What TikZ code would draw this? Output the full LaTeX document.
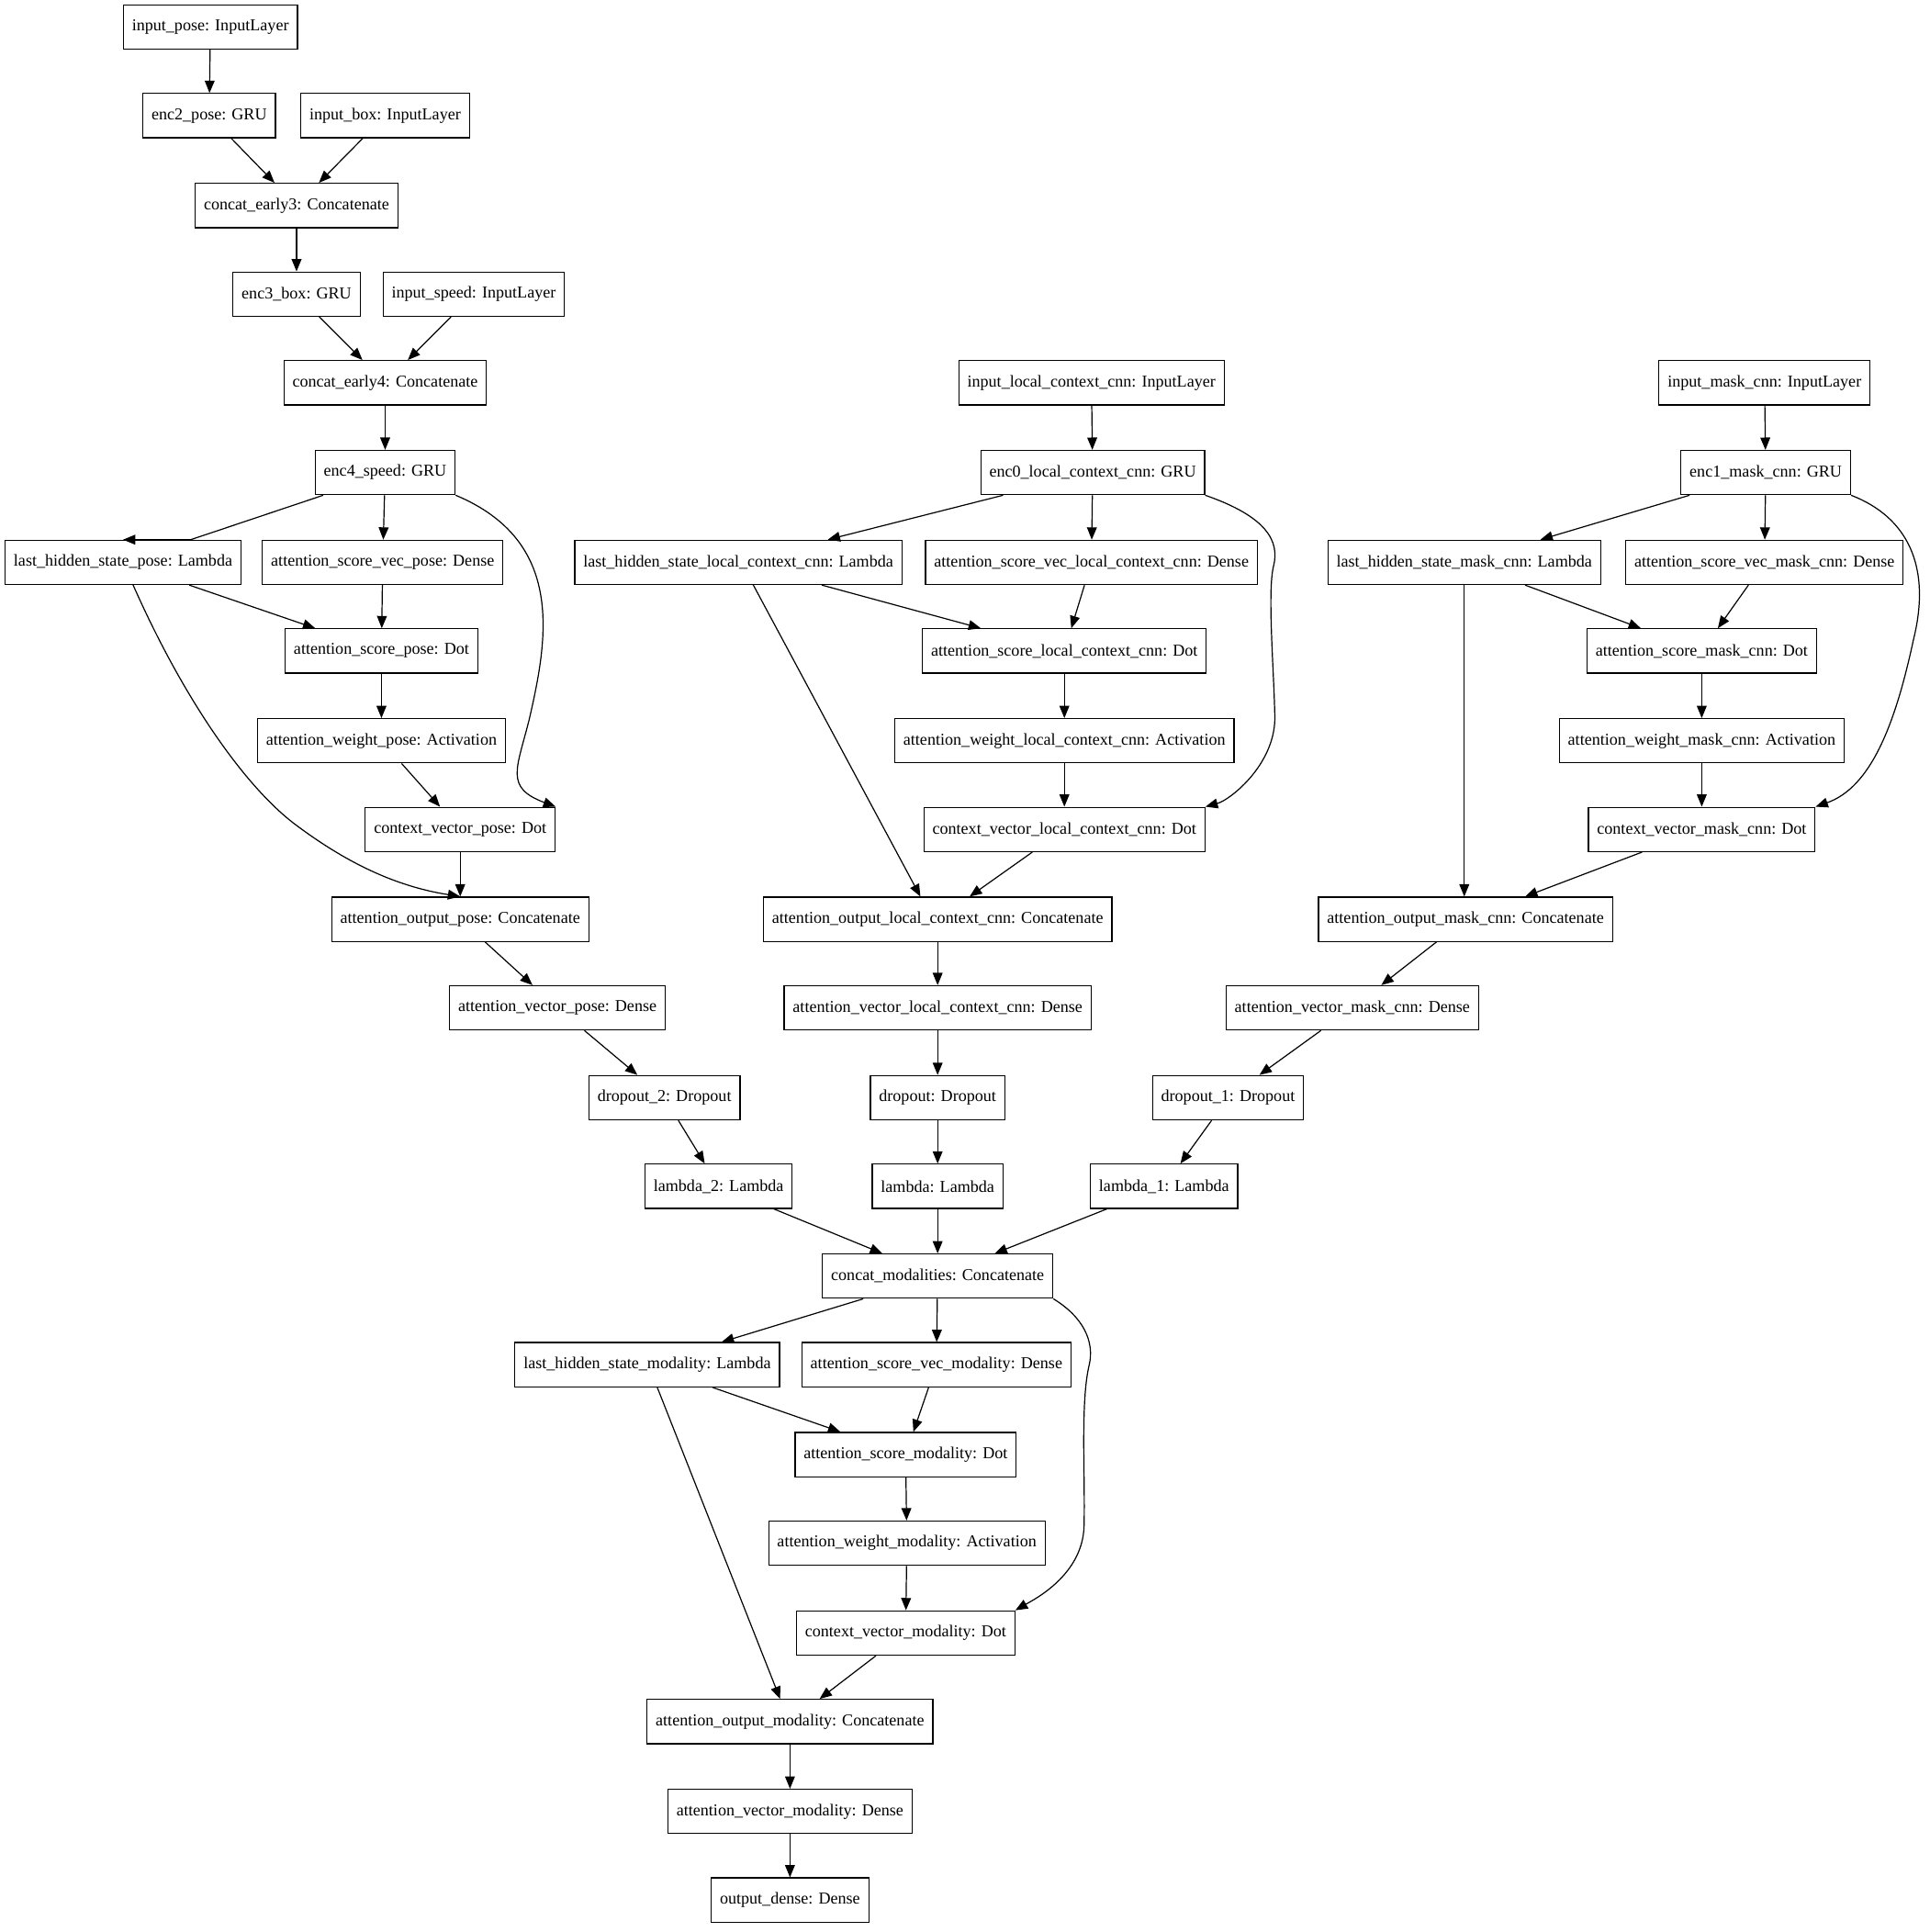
\documentclass[tikz,border=0pt]{standalone}
\usepackage{fontspec}
\setmainfont{Liberation Serif}
\usetikzlibrary{arrows.meta}
\begin{document}
\begin{tikzpicture}[x=1pt,y=-1pt,
  box/.style={draw,line width=0.9pt,minimum height=36pt,inner xsep=7pt,font=\fontsize{13.5}{15}\selectfont},
  edge/.style={line width=0.9pt,-{Triangle[length=10pt,width=8pt]}}]
\useasboundingbox (0,0) rectangle (1568,1570);
% pose branch
\node[box] (ip) at (171,22) {input\_pose: InputLayer};
\node[box] (e2) at (170,94) {enc2\_pose: GRU};
\node[box] (ib) at (313,94) {input\_box: InputLayer};
\node[box] (c3) at (241,167) {concat\_early3: Concatenate};
\node[box] (e3) at (241,239) {enc3\_box: GRU};
\node[box] (is) at (385,239) {input\_speed: InputLayer};
\node[box] (c4) at (313,311) {concat\_early4: Concatenate};
\node[box] (e4) at (313,384) {enc4\_speed: GRU};
\node[box] (lhp) at (100,457) {last\_hidden\_state\_pose: Lambda};
\node[box] (svp) at (311,457) {attention\_score\_vec\_pose: Dense};
\node[box] (asp) at (310,529) {attention\_score\_pose: Dot};
\node[box] (awp) at (310,602) {attention\_weight\_pose: Activation};
\node[box] (cvp) at (374,674) {context\_vector\_pose: Dot};
\node[box] (aop) at (374,747) {attention\_output\_pose: Concatenate};
\node[box] (avp) at (453,819) {attention\_vector\_pose: Dense};
\node[box] (d2) at (540,892) {dropout\_2: Dropout};
\node[box] (l2) at (584,964) {lambda\_2: Lambda};
% local branch
\node[box] (il) at (887,311) {input\_local\_context\_cnn: InputLayer};
\node[box] (e0) at (888,384) {enc0\_local\_context\_cnn: GRU};
\node[box] (lhl) at (600,457) {last\_hidden\_state\_local\_context\_cnn: Lambda};
\node[box] (svl) at (887,457) {attention\_score\_vec\_local\_context\_cnn: Dense};
\node[box] (asl) at (865,529) {attention\_score\_local\_context\_cnn: Dot};
\node[box] (awl) at (865,602) {attention\_weight\_local\_context\_cnn: Activation};
\node[box] (cvl) at (865,674) {context\_vector\_local\_context\_cnn: Dot};
\node[box] (aol) at (762,747) {attention\_output\_local\_context\_cnn: Concatenate};
\node[box] (avl) at (762,819) {attention\_vector\_local\_context\_cnn: Dense};
\node[box] (d0) at (762,892) {dropout: Dropout};
\node[box] (l0) at (762,964) {lambda: Lambda};
% mask branch
\node[box] (im) at (1434,311) {input\_mask\_cnn: InputLayer};
\node[box] (e1) at (1435,384) {enc1\_mask\_cnn: GRU};
\node[box] (lhm) at (1190,457) {last\_hidden\_state\_mask\_cnn: Lambda};
\node[box] (svm) at (1434,457) {attention\_score\_vec\_mask\_cnn: Dense};
\node[box] (asm) at (1383,529) {attention\_score\_mask\_cnn: Dot};
\node[box] (awm) at (1383,602) {attention\_weight\_mask\_cnn: Activation};
\node[box] (cvm) at (1383,674) {context\_vector\_mask\_cnn: Dot};
\node[box] (aom) at (1191,747) {attention\_output\_mask\_cnn: Concatenate};
\node[box] (avm) at (1099,819) {attention\_vector\_mask\_cnn: Dense};
\node[box] (d1) at (998,892) {dropout\_1: Dropout};
\node[box] (l1) at (946,964) {lambda\_1: Lambda};
% modality
\node[box] (cm) at (762,1037) {concat\_modalities: Concatenate};
\node[box] (lhd) at (526,1109) {last\_hidden\_state\_modality: Lambda};
\node[box] (svd) at (761,1109) {attention\_score\_vec\_modality: Dense};
\node[box] (asd) at (736,1182) {attention\_score\_modality: Dot};
\node[box] (awd) at (737,1254) {attention\_weight\_modality: Activation};
\node[box] (cvd) at (736,1327) {context\_vector\_modality: Dot};
\node[box] (aod) at (642,1399) {attention\_output\_modality: Concatenate};
\node[box] (avd) at (642,1472) {attention\_vector\_modality: Dense};
\node[box] (od) at (642,1544) {output\_dense: Dense};
% edges pose
\draw[edge] (ip) -- (e2);
\draw[edge] (e2) -- (c3);
\draw[edge] (ib) -- (c3);
\draw[edge] (c3) -- (e3);
\draw[edge] (e3) -- (c4);
\draw[edge] (is) -- (c4);
\draw[edge] (c4) -- (e4);
\draw[edge] (e4.south west) ++(7,0) -- (lhp.north -| 155,0) |- (lhp.north);
\draw[edge] (e4) -- (svp);
\draw[edge] (e4.south east) .. controls (460,440) and (445,520) .. (430,585) .. controls (420,625) and (410,640) .. (cvp.north east) ;
\draw[edge] (lhp) -- (asp);
\draw[edge] (svp) -- (asp);
\draw[edge] (108,475) .. controls (150,570) and (200,640) .. (240,670) .. controls (280,700) and (320,720) .. (aop.north);
\draw[edge] (asp) -- (awp);
\draw[edge] (awp) -- (cvp);
\draw[edge] (cvp) -- (aop);
\draw[edge] (aop) -- (avp);
\draw[edge] (avp) -- (d2);
\draw[edge] (d2) -- (l2);
\draw[edge] (l2) -- (cm);
% local
\draw[edge] (il) -- (e0);
\draw[edge] (e0) -- (lhl);
\draw[edge] (e0) -- (svl);
\draw[edge] (e0.south east) .. controls (1030,420) and (1040,440) .. (1035,460) .. controls (1030,480) and (1035,540) .. (1036,580) .. controls (1038,620) and (1000,650) .. (cvl.north east);
\draw[edge] (lhl) -- (asl);
\draw[edge] (svl) -- (asl);
\draw[edge] (612,475) -- (aol.north -| 748,0);
\draw[edge] (asl) -- (awl);
\draw[edge] (awl) -- (cvl);
\draw[edge] (cvl) -- (aol);
\draw[edge] (aol) -- (avl);
\draw[edge] (avl) -- (d0);
\draw[edge] (d0) -- (l0);
\draw[edge] (l0) -- (cm);
% mask
\draw[edge] (im) -- (e1);
\draw[edge] (e1) -- (lhm);
\draw[edge] (e1) -- (svm);
\draw[edge] (e1.south east) .. controls (1550,420) and (1570,460) .. (1555,520) .. controls (1540,590) and (1520,640) .. (cvm.north east);
\draw[edge] (lhm) -- (asm);
\draw[edge] (svm) -- (asm);
\draw[edge] (lhm.south) -- (aom.north -| lhm.south);
\draw[edge] (asm) -- (awm);
\draw[edge] (awm) -- (cvm);
\draw[edge] (cvm) -- (aom);
\draw[edge] (aom) -- (avm);
\draw[edge] (avm) -- (d1);
\draw[edge] (d1) -- (l1);
\draw[edge] (l1) -- (cm);
% modality
\draw[edge] (cm) -- (lhd);
\draw[edge] (cm) -- (svd);
\draw[edge] (cm.south east) .. controls (880,1070) and (890,1090) .. (885,1110) .. controls (878,1140) and (882,1200) .. (881,1240) .. controls (880,1280) and (840,1300) .. (cvd.north east);
\draw[edge] (lhd) -- (asd);
\draw[edge] (svd) -- (asd);
\draw[edge] (534,1127) -- (aod.north -| 634,0);
\draw[edge] (asd) -- (awd);
\draw[edge] (awd) -- (cvd);
\draw[edge] (cvd) -- (aod);
\draw[edge] (aod) -- (avd);
\draw[edge] (avd) -- (od);
\end{tikzpicture}
\end{document}
